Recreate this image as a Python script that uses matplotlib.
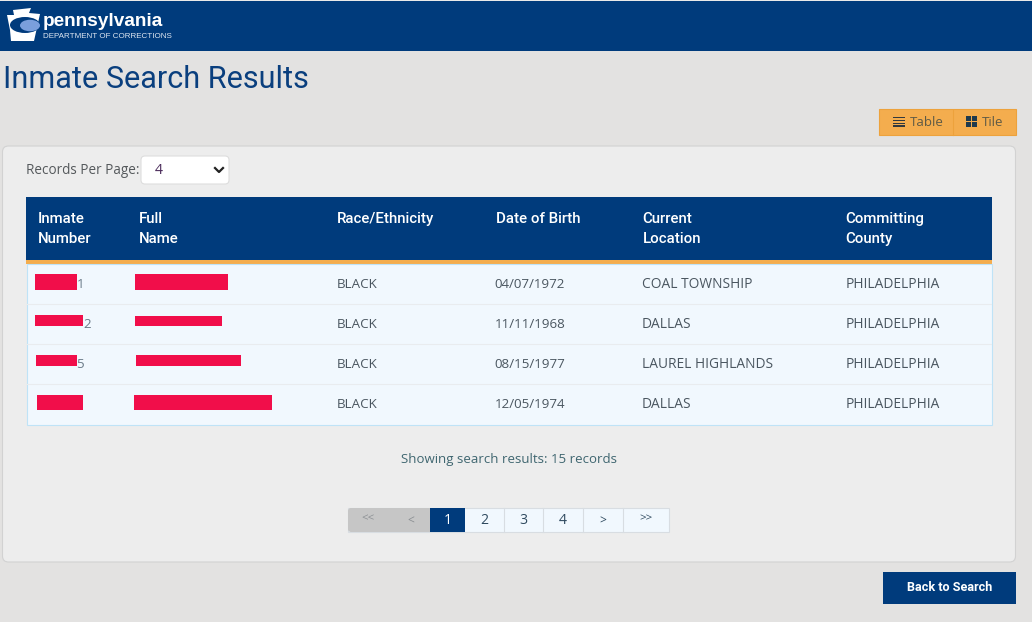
import matplotlib
matplotlib.use("Agg")
import matplotlib.pyplot as plt
from matplotlib.patches import Rectangle, FancyBboxPatch, Polygon, Ellipse

W, H = 1032, 622
NAVY = "#003b7c"
ORANGE = "#f4ad4e"
RED = "#f10e4a"
BODY = "#4a5660"

columns = ["Inmate\nNumber", "Full\nName", "Race/Ethnicity", "Date of Birth", "Current\nLocation", "Committing\nCounty"]
column_x = [38, 139, 337, 496, 642.5, 845.5]
race = ["BLACK", "BLACK", "BLACK", "BLACK"]
birth = ["04/07/1972", "11/11/1968", "08/15/1977", "12/05/1974"]
location = ["COAL TOWNSHIP", "DALLAS", "LAUREL HIGHLANDS", "DALLAS"]
county = ["PHILADELPHIA", "PHILADELPHIA", "PHILADELPHIA", "PHILADELPHIA"]
row_y = [284, 324, 364, 404]
number_tail = ["1", "2", "5", ""]
tail_x = [77, 83.5, 76, 0]
redact_number = [(35, 274, 42, 16), (35, 315, 48, 11), (36, 355, 41, 11), (37, 395, 46, 15)]
redact_name = [(135, 274, 93, 16), (135, 316, 87, 10), (136, 355, 105, 11), (134, 395, 138, 15)]
pages = ["<<", "<", "1", "2", "3", "4", ">", ">>"]
page_edges = [348, 392, 430, 465, 504, 543, 583, 623, 669]

fig = plt.figure(figsize=(W / 100, H / 100), dpi=100, facecolor="#e3e2e1")
ax = fig.add_axes([0, 0, 1, 1])
ax.set_xlim(0, W)
ax.set_ylim(H, 0)
ax.axis("off")


def rect(x, y, w, h, fc, ec="none", lw=0, z=1):
    ax.add_patch(Rectangle((x, y), w, h, fc=fc, ec=ec, lw=lw, zorder=z))


def txt(x, y, s, size, color=BODY, family="Open Sans", weight="normal", ha="left", z=5, **kw):
    ax.text(x, y, s, fontsize=size * 0.72, color=color, family=family, weight=weight,
            ha=ha, va="center", zorder=z, **kw)


# Banner
rect(0, 1, W, 50, NAVY)
rect(0, 0, W, 1, "#e9e9e9")
ax.add_patch(Polygon([(7, 15), (14, 15), (13, 10), (31, 8), (29, 13), (40, 14), (34, 41), (11, 41), (10, 30)],
                     fc="white", ec="none", zorder=2))
ax.add_patch(Ellipse((25, 25), 30, 16, fc=NAVY, ec="none", zorder=3))
ax.add_patch(Ellipse((30, 25.5), 20, 11.5, fc="#7a9fdc", ec="none", zorder=4))
txt(43, 21.5, "pennsylvania", 19, "white", "Liberation Sans", "bold")
txt(43, 36, "DEPARTMENT OF CORRECTIONS", 8.0, "#dfe7f2", "Liberation Sans")

# Title
txt(3, 80, "Inmate Search Results", 30.6, "#0a3f7e", "Roboto")

# Toggle buttons
rect(879, 109, 136.5, 26, ORANGE, "#eda23c", 0.8)
ax.plot([953, 953], [110, 135], color="#eda23c", lw=0.8, zorder=2)
for yy in (116.5, 119.5, 122.5, 125):
    rect(893, yy, 12, 1.8, "#33393d", z=3)
for xx in (966, 972):
    for yy in (116, 122):
        rect(xx, yy, 5, 4.5, "#1f3a4d", z=3)
txt(910, 122.5, "Table", 13.2, "#5f5a45", "Open Sans")
txt(982, 122.5, "Tile", 13.2, "#5f5a45", "Open Sans")

# Panel
ax.add_patch(FancyBboxPatch((2.5, 146), 1013, 416, boxstyle="round,pad=0,rounding_size=6",
                            fc="#ededed", ec="#d2d2d2", lw=0.8, zorder=1))
txt(26, 170.5, "Records Per Page:", 13.5, "#55595c")
ax.add_patch(FancyBboxPatch((141, 156), 88, 28, boxstyle="round,pad=0,rounding_size=4",
                            fc="white", ec="#dddddd", lw=0.8, zorder=2))
txt(155, 170.5, "4", 14, "#4a2a5a")
ax.plot([215, 219, 223], [168, 172, 168], color="#222222", lw=1.6, zorder=3)

# Table header
rect(26, 197, 966, 63, NAVY, z=2)
rect(26, 260, 966, 4, ORANGE, z=2)
for x, c in zip(column_x, columns):
    if "\n" in c:
        a, b = c.split("\n")
        txt(x, 219, a, 15, "white", "Roboto", "medium")
        txt(x, 239, b, 15, "white", "Roboto", "medium")
    else:
        txt(x, 219, c, 15, "white", "Roboto", "medium")

# Rows
rect(26.5, 264, 965, 161, "#f1f8fe", "#bfe3f7", 0.8, z=2)
for yy in (303.5, 343.5, 384):
    ax.plot([27, 991], [yy, yy], color="#e9ecef", lw=0.8, zorder=3)
for i, y in enumerate(row_y):
    txt(337, y, race[i], 13.4)
    txt(494.5, y, birth[i], 13.4)
    txt(642, y, location[i], 13.7)
    txt(845.5, y, county[i], 13.7)
    if number_tail[i]:
        txt(tail_x[i], y, number_tail[i], 13.4, "#6a7a88")
for x, y, w, h in redact_number + redact_name:
    rect(x, y, w, h, RED, z=6)

# Status line
txt(509, 459, "Showing search results: 15 records", 13.2, "#3f6670", ha="center")

# Pagination
rect(348, 508, 321, 24, "#f1f8fe", "#d8dde2", 0.8, z=2)
ax.add_patch(FancyBboxPatch((348, 508), 82, 24, boxstyle="round,pad=0,rounding_size=3",
                            fc="#c6c6c6", ec="none", zorder=3))
rect(425, 508, 5, 24, "#c6c6c6", z=3)
rect(430, 508, 35, 24, NAVY, z=3)
for x in page_edges[4:-1]:
    ax.plot([x, x], [508, 532], color="#d8dde2", lw=0.8, zorder=3)
for i, p in enumerate(pages):
    cx = (page_edges[i] + page_edges[i + 1]) / 2
    color = "white" if p == "1" else ("#8b8f93" if i < 2 else "#2f4a5f")
    size = 11.5 if p in ("<<", ">>") else (12 if p in ("<", ">") else 14)
    y = 519 if p in ("<<", ">>") else 521
    cx = cx - 2 if i == 0 else cx
    txt(cx, y, p, size, color, ha="center")

# Back button
rect(883, 572, 133, 32, NAVY, z=2)
txt(949.5, 587.5, "Back to Search", 12.6, "white", "Roboto", "bold", ha="center")

fig.savefig("out.png", dpi=100, facecolor=fig.get_facecolor())
